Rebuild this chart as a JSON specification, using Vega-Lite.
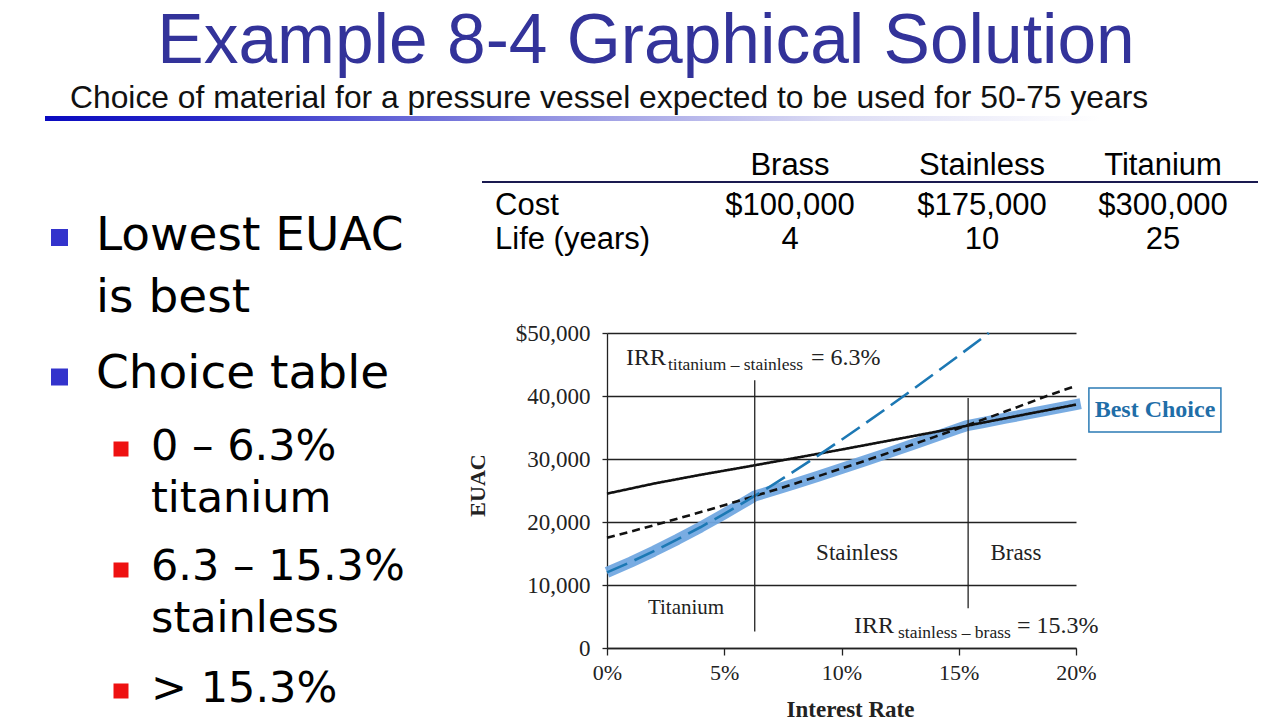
{
  "$schema": "https://vega.github.io/schema/vega-lite/v6.json",
  "background": "white",
  "padding": 0,
  "autosize": {"type": "pad"},
  "spacing": 0,
  "bounds": "flush",
  "config": {"view": {"stroke": null}, "concat": {"spacing": 0}},
  "vconcat": [
    {
      "width": 1280,
      "height": 125,
      "encoding": {
        "x": {"field": "x", "type": "quantitative", "scale": {"domain": [0, 1280], "nice": false, "zero": false}, "axis": null},
        "y": {"field": "y", "type": "quantitative", "scale": {"domain": [0, 125], "reverse": true, "nice": false, "zero": false}, "axis": null}
      },
      "layer": [
        {
          "data": {"values": [{"x": 45, "x2": 1100, "y": 116, "y2": 121}]},
          "mark": {"type": "rect", "fill": {"gradient": "linear", "x1": 0, "y1": 0, "x2": 1, "y2": 0, "stops": [{"offset": 0, "color": "#0a0ac0"}, {"offset": 0.15, "color": "#2828c8"}, {"offset": 0.45, "color": "#8c8ce0"}, {"offset": 0.75, "color": "#dcdcf4"}, {"offset": 1, "color": "#ffffff"}]}},
          "encoding": {"x2": {"field": "x2"}, "y2": {"field": "y2"}}
        },
        {
          "data": {"values": [{"x": 646, "y": 63, "t": "Example 8-4 Graphical Solution"}]},
          "mark": {"type": "text", "font": "Liberation Sans", "fontSize": 69.5, "color": "#33339a", "align": "center", "baseline": "alphabetic"},
          "encoding": {"text": {"field": "t"}}
        },
        {
          "data": {"values": [{"x": 70, "y": 108, "t": "Choice of material for a pressure vessel expected to be used for 50-75 years"}]},
          "mark": {"type": "text", "font": "Liberation Sans", "fontSize": 31.8, "color": "#111111", "align": "left", "baseline": "alphabetic"},
          "encoding": {"text": {"field": "t"}}
        }
      ]
    },
    {
      "spacing": 0,
      "bounds": "flush",
      "hconcat": [
        {
          "width": 607,
          "height": 595,
          "encoding": {
            "x": {"field": "x", "type": "quantitative", "scale": {"domain": [0, 607], "nice": false, "zero": false}, "axis": null},
            "y": {"field": "y", "type": "quantitative", "scale": {"domain": [125, 720], "reverse": true, "nice": false, "zero": false}, "axis": null}
          },
          "layer": [
            {
              "data": {"values": [{"x": 59.5, "y": 237.5}, {"x": 59.5, "y": 377}]},
              "mark": {"type": "point", "shape": "square", "filled": true, "size": 289, "color": "#3333cc", "opacity": 1}
            },
            {
              "data": {"values": [{"x": 121, "y": 449}, {"x": 121, "y": 570}, {"x": 121, "y": 691}]},
              "mark": {"type": "point", "shape": "square", "filled": true, "size": 225, "color": "#ee1111", "opacity": 1}
            },
            {
              "data": {"values": [{"x": 96, "y": 250, "t": "Lowest EUAC"}, {"x": 96, "y": 312, "t": "is best"}, {"x": 96, "y": 388, "t": "Choice table"}]},
              "mark": {"type": "text", "font": "DejaVu Sans", "fontSize": 47, "color": "#000000", "align": "left", "baseline": "alphabetic"},
              "encoding": {"text": {"field": "t"}}
            },
            {
              "data": {"values": [{"x": 151, "y": 460, "t": "0 – 6.3%"}, {"x": 151, "y": 512, "t": "titanium"}, {"x": 151, "y": 580, "t": "6.3 – 15.3%"}, {"x": 151, "y": 632, "t": "stainless"}, {"x": 151, "y": 702, "t": "> 15.3%"}]},
              "mark": {"type": "text", "font": "DejaVu Sans", "fontSize": 43, "color": "#000000", "align": "left", "baseline": "alphabetic"},
              "encoding": {"text": {"field": "t"}}
            }
          ]
        },
        {
          "spacing": 0,
          "bounds": "flush",
          "vconcat": [
            {
              "width": 673,
              "height": 208,
              "encoding": {
                "x": {"field": "x", "type": "quantitative", "scale": {"domain": [607, 1280], "nice": false, "zero": false}, "axis": null},
                "y": {"field": "y", "type": "quantitative", "scale": {"domain": [125, 333], "reverse": true, "nice": false, "zero": false}, "axis": null}
              },
              "layer": [
                {
                  "data": {"values": [{"x": 482, "x2": 1258, "y": 182}]},
                  "mark": {"type": "rule", "color": "#1a1a50", "strokeWidth": 2},
                  "encoding": {"x2": {"field": "x2"}}
                },
                {
                  "data": {"values": [{"x": 495, "y": 215, "t": "Cost"}, {"x": 495, "y": 249, "t": "Life (years)"}]},
                  "mark": {"type": "text", "font": "Liberation Sans", "fontSize": 31, "color": "#000000", "align": "left", "baseline": "alphabetic"},
                  "encoding": {"text": {"field": "t"}}
                },
                {
                  "data": {"values": [
                    {"x": 790, "y": 175, "t": "Brass"}, {"x": 982, "y": 175, "t": "Stainless"}, {"x": 1163, "y": 175, "t": "Titanium"},
                    {"x": 790, "y": 215, "t": "$100,000"}, {"x": 982, "y": 215, "t": "$175,000"}, {"x": 1163, "y": 215, "t": "$300,000"},
                    {"x": 790, "y": 249, "t": "4"}, {"x": 982, "y": 249, "t": "10"}, {"x": 1163, "y": 249, "t": "25"}
                  ]},
                  "mark": {"type": "text", "font": "Liberation Sans", "fontSize": 31, "color": "#000000", "align": "center", "baseline": "alphabetic"},
                  "encoding": {"text": {"field": "t"}}
                }
              ]
            },
            {
              "width": 469,
              "height": 315,
              "encoding": {
                "x": {
                  "field": "rate", "type": "quantitative",
                  "scale": {"domain": [0, 20], "nice": false, "zero": false},
                  "axis": {
                    "values": [0, 5, 10, 15, 20], "labelExpr": "datum.value + '%'", "grid": false,
                    "domain": true, "domainColor": "#222222", "domainWidth": 1.3,
                    "ticks": true, "tickSize": 7, "tickColor": "#222222", "tickWidth": 1.3,
                    "labelFont": "Liberation Serif", "labelFontSize": 22, "labelColor": "#222222", "labelPadding": 7, "labelFlush": false, "labelOverlap": false,
                    "title": "Interest Rate", "titleFont": "Liberation Serif", "titleFontSize": 23, "titleFontWeight": "bold", "titleColor": "#222222",
                    "titleX": 243, "titleY": 61, "titleAlign": "center", "titleBaseline": "middle"
                  }
                },
                "y": {
                  "field": "euac", "type": "quantitative",
                  "scale": {"domain": [0, 50000], "nice": false, "zero": false},
                  "axis": {
                    "values": [0, 10000, 20000, 30000, 40000, 50000],
                    "labelExpr": "datum.value == 50000 ? '$50,000' : format(datum.value, ',')",
                    "grid": true, "gridColor": "#222222", "gridWidth": 1.3,
                    "domain": true, "domainColor": "#222222", "domainWidth": 1.3,
                    "ticks": true, "tickSize": 5, "tickColor": "#222222", "tickWidth": 1.3,
                    "labelFont": "Liberation Serif", "labelFontSize": 23, "labelColor": "#222222", "labelPadding": 12, "labelFlush": false, "labelOverlap": false,
                    "title": "EUAC", "titleFont": "Liberation Serif", "titleFontSize": 22, "titleFontWeight": "bold", "titleColor": "#222222",
                    "titleX": -130, "titleY": 152, "titleAngle": 270, "titleAlign": "center", "titleBaseline": "middle"
                  }
                }
              },
              "layer": [
                {
                  "data": {"values": [
                    {"rate": 0, "euac": 12000}, {"rate": 1, "euac": 13623}, {"rate": 2, "euac": 15366}, {"rate": 3, "euac": 17229},
                    {"rate": 4, "euac": 19203}, {"rate": 5, "euac": 21285}, {"rate": 6, "euac": 23469}, {"rate": 6.3, "euac": 24130},
                    {"rate": 7, "euac": 24916}, {"rate": 8, "euac": 26080}, {"rate": 9, "euac": 27268}, {"rate": 10, "euac": 28481},
                    {"rate": 11, "euac": 29715}, {"rate": 12, "euac": 30972}, {"rate": 13, "euac": 32251}, {"rate": 14, "euac": 33549},
                    {"rate": 15, "euac": 34869}, {"rate": 15.3, "euac": 35250}, {"rate": 16, "euac": 35750}, {"rate": 17, "euac": 36480},
                    {"rate": 18, "euac": 37200}, {"rate": 19, "euac": 37910}, {"rate": 20, "euac": 38630}, {"rate": 20.2, "euac": 38775}
                  ]},
                  "mark": {"type": "line", "color": "#72a8e0", "strokeWidth": 11, "strokeCap": "butt", "strokeJoin": "round", "opacity": 0.95}
                },
                {
                  "data": {"values": [
                    {"series": "Brass", "rate": 0, "euac": 24500}, {"series": "Brass", "rate": 2, "euac": 26100}, {"series": "Brass", "rate": 4, "euac": 27500},
                    {"series": "Brass", "rate": 6, "euac": 28800}, {"series": "Brass", "rate": 8, "euac": 30150}, {"series": "Brass", "rate": 10, "euac": 31500},
                    {"series": "Brass", "rate": 12, "euac": 32900}, {"series": "Brass", "rate": 14, "euac": 34300}, {"series": "Brass", "rate": 16, "euac": 35750},
                    {"series": "Brass", "rate": 18, "euac": 37200}, {"series": "Brass", "rate": 20, "euac": 38630},
                    {"series": "Stainless", "rate": 0, "euac": 17500}, {"series": "Stainless", "rate": 1, "euac": 18477}, {"series": "Stainless", "rate": 2, "euac": 19482},
                    {"series": "Stainless", "rate": 3, "euac": 20515}, {"series": "Stainless", "rate": 4, "euac": 21576}, {"series": "Stainless", "rate": 5, "euac": 22663},
                    {"series": "Stainless", "rate": 6, "euac": 23777}, {"series": "Stainless", "rate": 7, "euac": 24916}, {"series": "Stainless", "rate": 8, "euac": 26080},
                    {"series": "Stainless", "rate": 9, "euac": 27268}, {"series": "Stainless", "rate": 10, "euac": 28481}, {"series": "Stainless", "rate": 11, "euac": 29715},
                    {"series": "Stainless", "rate": 12, "euac": 30972}, {"series": "Stainless", "rate": 13, "euac": 32251}, {"series": "Stainless", "rate": 14, "euac": 33549},
                    {"series": "Stainless", "rate": 15, "euac": 34869}, {"series": "Stainless", "rate": 16, "euac": 36208}, {"series": "Stainless", "rate": 17, "euac": 37566},
                    {"series": "Stainless", "rate": 18, "euac": 38939}, {"series": "Stainless", "rate": 19, "euac": 40331}, {"series": "Stainless", "rate": 20, "euac": 41600},
                    {"series": "Titanium", "rate": 0, "euac": 12000}, {"series": "Titanium", "rate": 1, "euac": 13623}, {"series": "Titanium", "rate": 2, "euac": 15366},
                    {"series": "Titanium", "rate": 3, "euac": 17229}, {"series": "Titanium", "rate": 4, "euac": 19203}, {"series": "Titanium", "rate": 5, "euac": 21285},
                    {"series": "Titanium", "rate": 6, "euac": 23469}, {"series": "Titanium", "rate": 7, "euac": 25743}, {"series": "Titanium", "rate": 8, "euac": 28104},
                    {"series": "Titanium", "rate": 9, "euac": 30543}, {"series": "Titanium", "rate": 10, "euac": 33051}, {"series": "Titanium", "rate": 11, "euac": 35622},
                    {"series": "Titanium", "rate": 12, "euac": 38250}, {"series": "Titanium", "rate": 13, "euac": 40929}, {"series": "Titanium", "rate": 14, "euac": 43650},
                    {"series": "Titanium", "rate": 15, "euac": 46410}, {"series": "Titanium", "rate": 16, "euac": 49203}, {"series": "Titanium", "rate": 16.28, "euac": 50000}
                  ]},
                  "mark": {"type": "line", "strokeWidth": 2.6},
                  "encoding": {
                    "color": {"field": "series", "type": "nominal", "scale": {"domain": ["Brass", "Stainless", "Titanium"], "range": ["#111111", "#111111", "#1c78b4"]}, "legend": null},
                    "strokeDash": {"field": "series", "type": "nominal", "scale": {"domain": ["Brass", "Stainless", "Titanium"], "range": [[1, 0], [8, 5], [22, 8]]}, "legend": null}
                  }
                },
                {
                  "data": {"values": [{"rate": 6.3, "euac": 2600, "euac2": 42500}, {"rate": 15.4, "euac": 6300, "euac2": 39700}]},
                  "mark": {"type": "rule", "color": "#222222", "strokeWidth": 1.3},
                  "encoding": {"y2": {"field": "euac2"}}
                },
                {
                  "data": {"values": [{"rate": 3.37, "euac": 6350, "t": "Titanium"}]},
                  "mark": {"type": "text", "font": "Liberation Serif", "fontSize": 21, "color": "#222222", "align": "center", "baseline": "middle"},
                  "encoding": {"text": {"field": "t"}}
                },
                {
                  "data": {"values": [{"rate": 10.66, "euac": 15080, "t": "Stainless"}, {"rate": 17.44, "euac": 15080, "t": "Brass"}]},
                  "mark": {"type": "text", "font": "Liberation Serif", "fontSize": 23, "color": "#222222", "align": "center", "baseline": "middle"},
                  "encoding": {"text": {"field": "t"}}
                },
                {
                  "data": {"values": [
                    {"rate": 0.81, "euac": 44900, "t": "IRR"}, {"rate": 8.7, "euac": 44900, "t": "= 6.3%"},
                    {"rate": 10.53, "euac": 2380, "t": "IRR"}, {"rate": 17.48, "euac": 2380, "t": "= 15.3%"}
                  ]},
                  "mark": {"type": "text", "font": "Liberation Serif", "fontSize": 24, "color": "#222222", "align": "left", "baseline": "alphabetic"},
                  "encoding": {"text": {"field": "t"}}
                },
                {
                  "data": {"values": [
                    {"rate": 2.6, "euac": 44200, "t": "titanium – stainless"},
                    {"rate": 12.41, "euac": 1650, "t": "stainless – brass"}
                  ]},
                  "mark": {"type": "text", "font": "Liberation Serif", "fontSize": 17.5, "color": "#222222", "align": "left", "baseline": "alphabetic"},
                  "encoding": {"text": {"field": "t"}}
                },
                {
                  "data": {"values": [{"rate": 20.55, "rate2": 26.18, "euac": 34290, "euac2": 41270}]},
                  "mark": {"type": "rect", "fill": "#ffffff", "stroke": "#2b7bb5", "strokeWidth": 1.5},
                  "encoding": {"x2": {"field": "rate2"}, "y2": {"field": "euac2"}}
                },
                {
                  "data": {"values": [{"rate": 23.37, "euac": 37780, "t": "Best Choice"}]},
                  "mark": {"type": "text", "font": "Liberation Serif", "fontSize": 24, "fontWeight": "bold", "color": "#1f6ea8", "align": "center", "baseline": "middle"},
                  "encoding": {"text": {"field": "t"}}
                }
              ]
            }
          ]
        }
      ]
    }
  ]
}
